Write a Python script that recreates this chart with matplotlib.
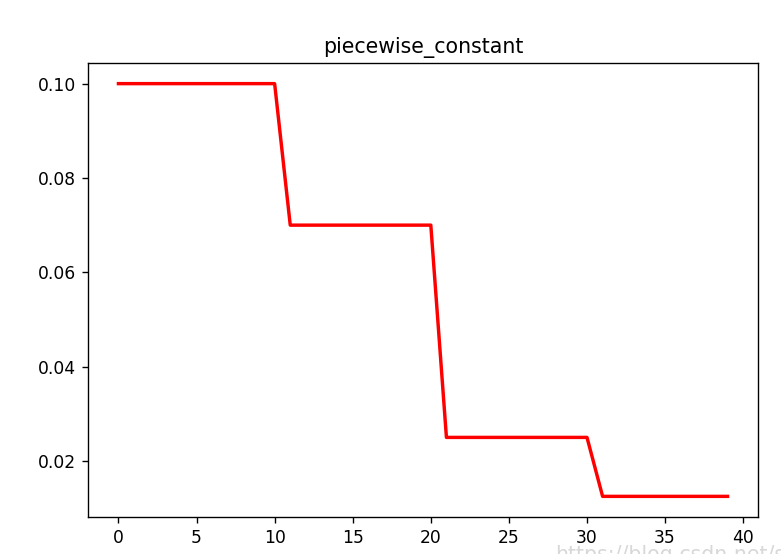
import numpy as np
import matplotlib
matplotlib.use("Agg")
import matplotlib.pyplot as plt

# learning rate schedule: corner points of the piecewise constant curve
epochs = [0, 10, 11, 20, 21, 30, 31, 39]
lr = [0.1, 0.1, 0.07, 0.07, 0.025, 0.025, 0.0125, 0.0125]

# screenshot looks like a default figure scaled up ~1.23x
dpi = 123
fig = plt.figure(figsize=(781/dpi, 554/dpi), dpi=dpi)
ax = fig.add_axes([88/781, 1 - 517/554, (758-88)/781, (517-63)/554])
ax.plot(epochs, lr, color='red', linewidth=2)
ax.set_title('piecewise_constant')

# faint watermark from the source screenshot (cut at the bottom edge)
fig.text(555/781, -1/554, 'https://blog.csdn.net/sh', color='#d8d8d8',
         fontsize=12, va='center', zorder=0)

fig.savefig('out.png', dpi=dpi)
